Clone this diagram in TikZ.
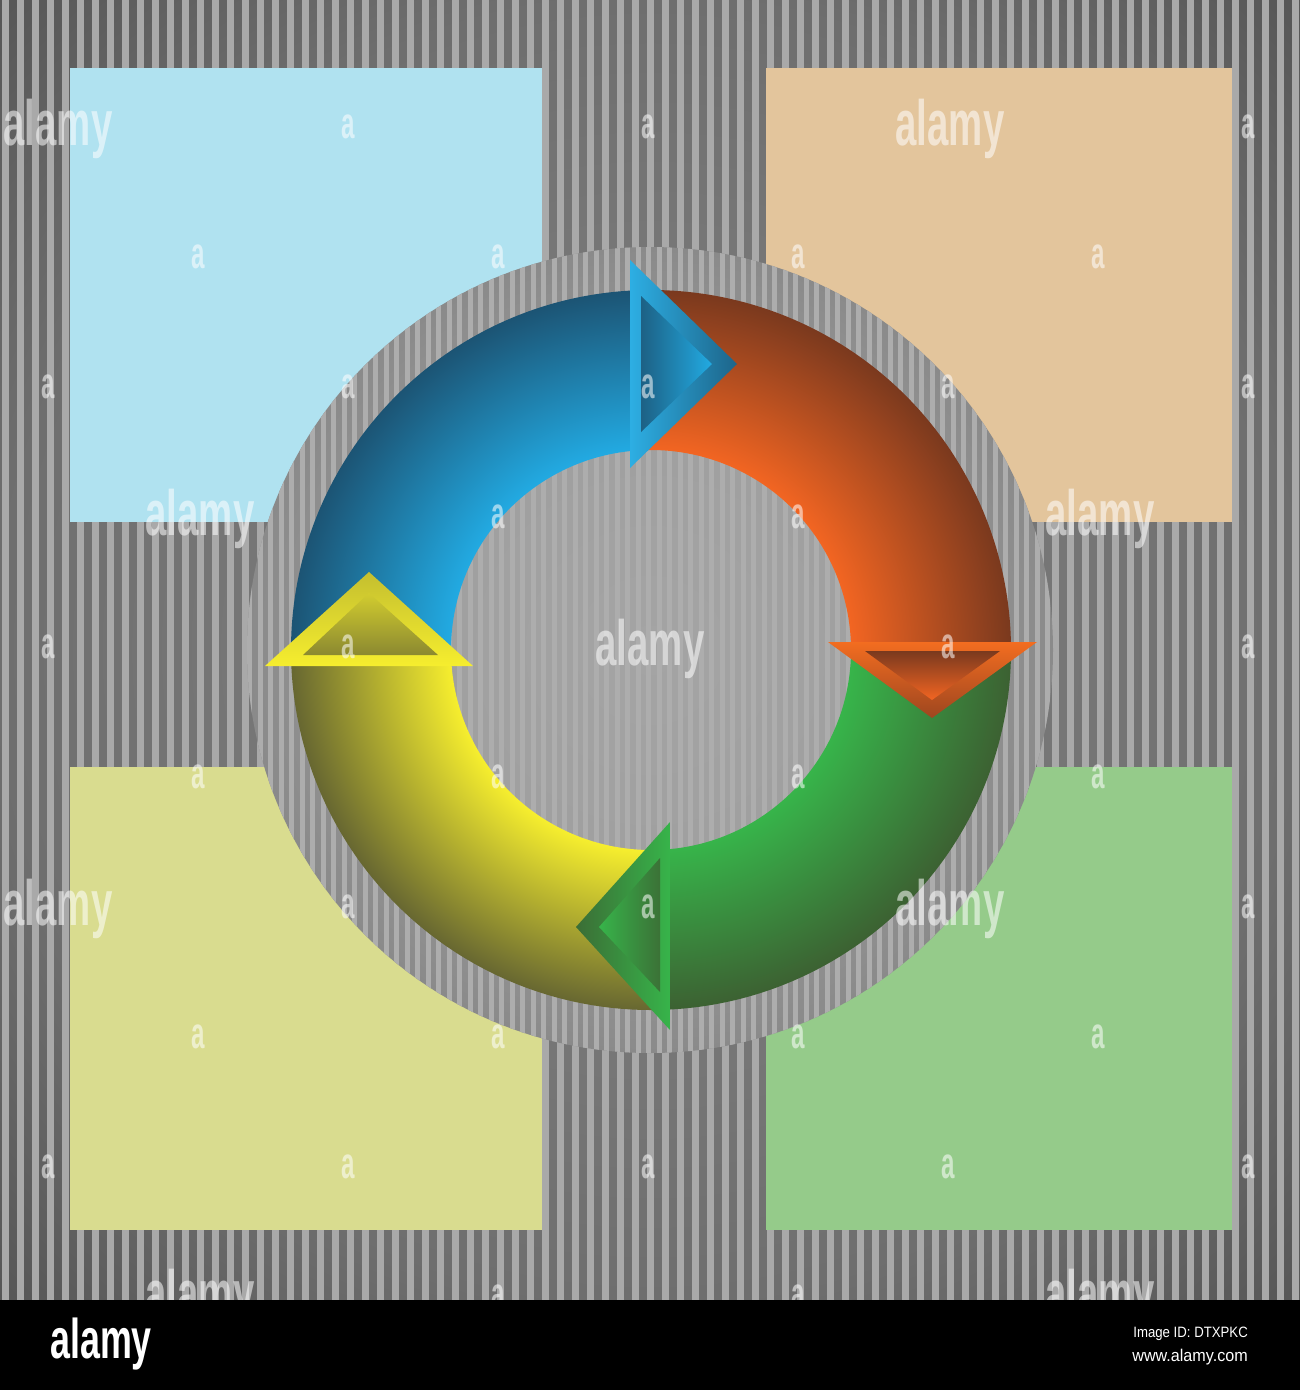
\documentclass[tikz,border=0pt]{standalone}
\usepackage{fontspec}
\setmainfont{Liberation Sans}
\definecolor{bgIn}{HTML}{848484}
\definecolor{bgMid}{HTML}{6E6E6E}
\definecolor{bgOut}{HTML}{565656}
\definecolor{stripeBg}{HTML}{A9A9A9}
\definecolor{ciIn}{HTML}{A4A4A4}
\definecolor{ciMid}{HTML}{A0A0A0}
\definecolor{ciOut}{HTML}{8A8A8A}
\definecolor{stripeCi}{HTML}{ADADAD}
\definecolor{rBlue}{HTML}{B0E2F0}
\definecolor{rTan}{HTML}{E3C59C}
\definecolor{rOlive}{HTML}{D9DC8F}
\definecolor{rGreen}{HTML}{95CB8A}
\definecolor{blIn}{HTML}{22AAE2}
\definecolor{blOut}{HTML}{1C5474}
\definecolor{orIn}{HTML}{F26522}
\definecolor{orOut}{HTML}{7A391E}
\definecolor{grIn}{HTML}{37B44A}
\definecolor{grOut}{HTML}{3C6132}
\definecolor{yeIn}{HTML}{F6EE2E}
\definecolor{yeOut}{HTML}{676731}
\pgfdeclareradialshading{bgshade}{\pgfpoint{0bp}{0bp}}{color(0bp)=(bgIn); color(17.7bp)=(bgMid); color(25bp)=(bgOut); color(50bp)=(bgOut)}
\pgfdeclareradialshading{cishade}{\pgfpoint{0bp}{0bp}}{color(0bp)=(ciIn); color(12.4bp)=(ciMid); color(25bp)=(ciOut); color(50bp)=(ciOut)}
\pgfdeclareradialshading{blshade}{\pgfpoint{0bp}{0bp}}{color(0bp)=(blIn); color(13.9bp)=(blIn); color(25bp)=(blOut); color(50bp)=(blOut)}
\pgfdeclareradialshading{orshade}{\pgfpoint{0bp}{0bp}}{color(0bp)=(orIn); color(13.9bp)=(orIn); color(25bp)=(orOut); color(50bp)=(orOut)}
\pgfdeclareradialshading{grshade}{\pgfpoint{0bp}{0bp}}{color(0bp)=(grIn); color(13.9bp)=(grIn); color(25bp)=(grOut); color(50bp)=(grOut)}
\pgfdeclareradialshading{yeshade}{\pgfpoint{0bp}{0bp}}{color(0bp)=(yeIn); color(13.9bp)=(yeIn); color(25bp)=(yeOut); color(50bp)=(yeOut)}
\newcommand\ringsector[3]{%
  \begin{scope}
    \clip ([shift={(651,650)}]#1:360) arc[start angle=#1,end angle=#2,radius=360]
      -- ([shift={(651,650)}]#2:200) arc[start angle=#2,end angle=#1,radius=200] -- cycle;
    \shade[shading=#3] (651,650) circle[radius=360];
  \end{scope}}
\tikzset{
  wmword/.style={text=white, text opacity=0.55, inner sep=0pt, anchor=base,
    font=\bfseries\fontsize{64}{64}\selectfont},
  wmletter/.style={text=white, text opacity=0.55, inner sep=0pt, anchor=base,
    font=\bfseries\fontsize{44}{44}\selectfont},
  bartext/.style={text=white, inner sep=0pt}
}
\begin{document}
\begin{tikzpicture}[x=1pt,y=-1pt]
\useasboundingbox (0,0) rectangle (1300,1390);
\clip (0,0) rectangle (1300,1390);
% striped background
\begin{scope}
  \clip (0,0) rectangle (1300,1300);
  \shade[shading=bgshade] (650,650) circle[radius=920];
  \foreach \i in {0,...,87} \fill[stripeBg] ({15*\i+1.5},0) rectangle ++(7,1300);
\end{scope}
% coloured panels
\fill[rBlue]  (70,68)   rectangle (542,522);
\fill[rTan]   (766,68)  rectangle (1232,522);
\fill[rOlive] (70,767)  rectangle (542,1230);
\fill[rGreen] (766,767) rectangle (1232,1230);
% grey disc
\begin{scope}
  \clip (650,650) circle[radius=403];
  \shade[shading=cishade] (650,650) circle[radius=403];
  \foreach \i in {0,...,77} \fill[stripeCi] ({247+10.5*\i},247) rectangle ++(5,806);
\end{scope}
% ring
\ringsector{-92}{0}{orshade}
\ringsector{0}{88}{grshade}
\ringsector{88}{179}{yeshade}
\ringsector{179}{268}{blshade}
% arrow heads
\shade[left color=blIn!95!white, right color=blOut!80!blIn] (630,260) -- (630,468) -- (737,364) -- cycle;
\shade[left color=blOut!85!blIn, right color=blIn] (641,296) -- (641,432) -- (712,364) -- cycle;
\shade[top color=orIn!95!yellow, bottom color=orOut!70!orIn] (828,642) -- (1037,642) -- (932,718) -- cycle;
\shade[top color=orOut, bottom color=orIn] (865,651) -- (1000,651) -- (932,700) -- cycle;
\shade[right color=grIn, left color=grOut!85!grIn] (670,822) -- (670,1030) -- (576,927) -- cycle;
\shade[right color=grOut!80!grIn, left color=grIn] (660,858) -- (660,992) -- (599,927) -- cycle;
\shade[bottom color=yeIn, top color=yeIn!65!yeOut] (265,666) -- (473,666) -- (369,572) -- cycle;
\shade[bottom color=yeOut!75!yeIn, top color=yeIn!75!yeOut] (303,655) -- (438,655) -- (369,593) -- cycle;
% watermarks
\foreach \x/\y [count=\k] in {56/128,948/128,198/518,1098/518,648/648,56/908,948/908,198/1298,1098/1298}
  \node[wmword] (ww\k) at (\x+2,\y+17) {\scalebox{0.6}[1]{alamy}};
\foreach \x/\y [count=\k] in {348/128,648/128,1248/128,
    198/258,498/258,798/258,1098/258,
    48/388,348/388,648/388,948/388,1248/388,
    498/518,798/518,
    48/648,348/648,948/648,1248/648,
    198/778,498/778,798/778,1098/778,
    348/908,648/908,1248/908,
    198/1038,498/1038,798/1038,1098/1038,
    48/1168,348/1168,648/1168,948/1168,1248/1168,
    498/1298,798/1298}
  \node[wmletter] (wa\k) at (\x,\y+10) {\scalebox{0.55}[1]{a}};
% bottom bar
\fill[black] (0,1300) rectangle (1300,1390);
\node[bartext, anchor=base west, font=\bfseries\fontsize{56}{56}\selectfont] (logo) at (50,1358) {\scalebox{0.64}[1]{alamy}};
\node[bartext, anchor=base east, font=\fontsize{15}{15}\selectfont] (imgid) at (1248,1337) {\scalebox{0.88}[1]{Image ID: DTXPKC}};
\node[bartext, anchor=base east, font=\fontsize{17}{17}\selectfont] (url) at (1248,1361) {\scalebox{0.95}[1]{www.alamy.com}};
\end{tikzpicture}
\end{document}
